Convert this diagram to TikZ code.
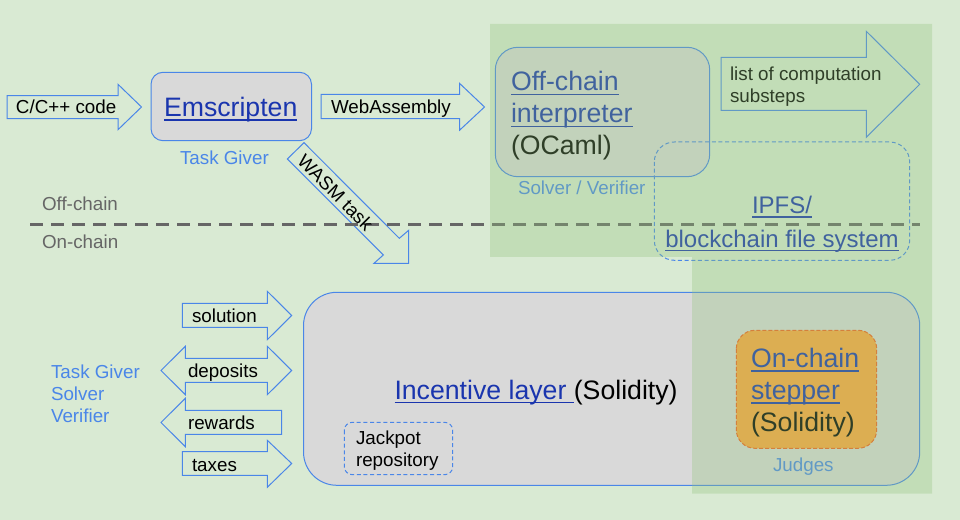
\documentclass[tikz,border=0pt]{standalone}
\usepackage{fontspec}
\setmainfont{Liberation Sans}
\definecolor{bgc}{HTML}{D9EAD3}
\definecolor{overc}{HTML}{93C47D}
\definecolor{linec}{HTML}{4A86E8}
\definecolor{greyc}{HTML}{D9D9D9}
\definecolor{linkc}{HTML}{1A35AE}
\definecolor{orangec}{HTML}{FFA53F}
\definecolor{dashc}{HTML}{F4601E}
\definecolor{chainc}{HTML}{666666}
\newcommand{\linktext}[1]{{\color{linkc}\setbox0\hbox{#1}\rlap{\rule[-2.9pt]{\wd0}{1pt}}\box0}}
\tikzset{
  x=0.75pt,y=-0.75pt,
  blockarrow/.style={draw=linec,line width=0.75pt,line join=miter},
  txt/.style={inner sep=0pt,outer sep=0pt,anchor=base west,align=left,font=\fontsize{14.1pt}{16.5pt}\selectfont},
  bigtxt/.style={txt,font=\fontsize{20pt}{24pt}\selectfont},
  rolelabel/.style={txt,text=linec},
  chainlabel/.style={txt,text=chainc},
  roundbox/.style={draw=linec,fill=greyc,line width=0.75pt},
  dashbox/.style={draw=linec,line width=0.75pt,dash pattern=on 3pt off 2pt},
}
\begin{document}
\begin{tikzpicture}
\useasboundingbox (0,0) rectangle (960,520);
\fill[bgc] (0,0) rectangle (960,520);
% block arrows
\draw[blockarrow] (7,95.7) -- (118,95.7) -- (118,84.3) -- (141.5,107) -- (118,129.7) -- (118,118.7) -- (7,118.7) -- cycle;
\draw[blockarrow] (321,94.3) -- (459.5,94.3) -- (459.5,83.3) -- (484.5,107) -- (459.5,130.3) -- (459.5,118.7) -- (321,118.7) -- cycle;
\draw[blockarrow] (287.3,159) -- (304,142.7) -- (399.3,238.3) -- (408.7,230.3) -- (408.7,263.3) -- (374,263.3) -- (383.3,255) -- cycle;
\draw[blockarrow] (721,57.3) -- (866.3,57.3) -- (866.3,31.3) -- (919.7,84.3) -- (866.3,137.3) -- (866.3,110.3) -- (721,110.3) -- cycle;
\draw[blockarrow] (182.3,303.3) -- (267.3,303.3) -- (267.3,291.3) -- (291.7,315.5) -- (267.3,339.7) -- (267.3,327.3) -- (182.3,327.3) -- cycle;
\draw[blockarrow] (161,370.5) -- (185.3,346.3) -- (185.3,358.3) -- (267.3,358.3) -- (267.3,346.3) -- (291.7,370.5) -- (267.3,394.7) -- (267.3,382.3) -- (185.3,382.3) -- (185.3,394.7) -- cycle;
\draw[blockarrow] (161,422.5) -- (185.3,398.3) -- (185.3,410.3) -- (281.7,410.3) -- (281.7,434.3) -- (185.3,434.3) -- (185.3,446.7) -- cycle;
\draw[blockarrow] (182.3,451.7) -- (267.3,451.7) -- (267.3,440.3) -- (291.7,463.5) -- (267.3,487.3) -- (267.3,475.3) -- (182.3,475.3) -- cycle;
% boxes
\draw[roundbox,rounded corners=9pt] (151,72.3) rectangle (311.5,140.7);
\draw[roundbox,rounded corners=17pt] (495.3,47.3) rectangle (709.7,176.7);
\draw[roundbox,rounded corners=25pt] (303.5,292.3) rectangle (919.7,485.3);
\draw[dashbox,rounded corners=6pt] (344.3,422.3) rectangle (452.7,474.7);
\draw[draw=dashc,fill=orangec,line width=0.75pt,dash pattern=on 3pt off 1.5pt,rounded corners=14pt] (736.3,330.3) rectangle (876.7,448.3);
\draw[dashbox,rounded corners=15pt] (654.3,142) rectangle (909.7,260.3);
% dividing line
\coordinate (divleft) at (30,224.3);
\coordinate (divright) at (920,224.3);
\draw[chainc,line width=2.25pt,dash pattern=on 9.5pt off 6.25pt] (divleft) -- (divright);
% texts
\node[txt] (ccode) at (16,113.8) {C/C++ code};
\node[txt] (wasmlabel) at (331,113.8) {WebAssembly};
\node[inner sep=0pt,rotate=-45,font=\fontsize{14.1pt}{16.5pt}\selectfont] (wasmtask) at (335.5,192.5) {WASM task};
\node[txt] (substeps) at (730,103) {list of computation\\substeps};
\node[txt] (solution) at (192,322.3) {solution};
\node[txt] (deposits) at (188,377.3) {deposits};
\node[txt] (rewards) at (188,429.3) {rewards};
\node[txt] (taxes) at (192,471) {taxes};
\node[txt] (jackpot) at (356,466.3) {Jackpot\\repository};
\node[rolelabel] (giver) at (180,164.5) {Task Giver};
\node[rolelabel] (solver) at (518,195) {Solver / Verifier};
\node[rolelabel] (roles) at (51,422.3) {Task Giver\\Solver\\Verifier};
\node[rolelabel] (judges) at (773,471.7) {Judges};
\node[chainlabel] (offchain) at (42,211) {Off-chain};
\node[chainlabel] (onchain) at (42,248.7) {On-chain};
\node[bigtxt] (emscripten) at (164,116.7) {\linktext{Emscripten}};
\node[bigtxt] (interpreter) at (511,155) {\linktext{Off-chain}\\\linktext{interpreter}\\(OCaml)};
\node[bigtxt] (incentive) at (394.5,399.3) {\linktext{Incentive layer\ }(Solidity)};
\node[bigtxt] (stepper) at (751,431.7) {\linktext{On-chain}\\\linktext{stepper}\\(Solidity)};
\node[txt,anchor=base,align=center,font=\fontsize{18pt}{25pt}\selectfont] (ipfs) at (782,247.3) {\linktext{IPFS/}\\\linktext{blockchain file system}};
% green overlay
\fill[overc,fill opacity=0.32] (490,24) -- (932,24) -- (932,493.7) -- (692,493.7) -- (692,257) -- (490,257) -- cycle;
\end{tikzpicture}
\end{document}
